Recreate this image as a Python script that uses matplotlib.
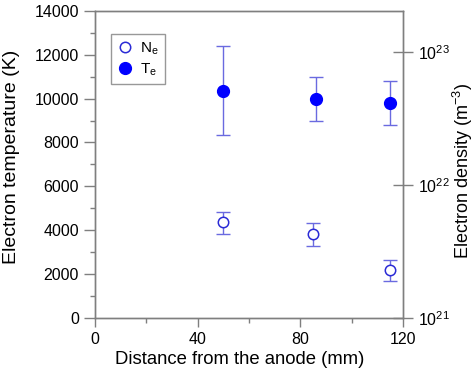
import numpy as np
import matplotlib
matplotlib.use("Agg")
import matplotlib.pyplot as plt
from matplotlib.ticker import MultipleLocator, LogLocator, NullLocator

plt.rcParams['font.family'] = ['Liberation Sans', 'DejaVu Sans']
plt.rcParams['mathtext.fontset'] = 'custom'
plt.rcParams['mathtext.rm'] = 'Liberation Sans'

# Data
dist_te = [50, 86, 115]
te = [10350, 10000, 9800]
te_err_low = [2000, 1000, 1000]
te_err_high = [2050, 1000, 1000]

dist_ne = [50, 85, 115]
ne = [5.3e21, 4.3e21, 2.3e21]
ne_err_low = [1.0e21, 0.83e21, 0.4e21]
ne_err_high = [0.95e21, 0.85e21, 0.42e21]

x_ticks = [0, 40, 80, 120]

grey = '#7f7f7f'
bar_col = '#6a6ae0'

fig = plt.figure(figsize=(4.74, 3.75), dpi=100)
ax = fig.add_axes([0.2004, 0.152, 0.6498, 0.819])
ax2 = ax.twinx()

# Temperature (left axis)
ax.errorbar(dist_te, te, yerr=[te_err_low, te_err_high], fmt='none',
            ecolor=bar_col, elinewidth=1, capsize=5, capthick=1)
h_te, = ax.plot(dist_te, te, 'o', color='#0000ff', markersize=8.5,
                label=r'T$_\mathregular{e}$', zorder=3)

# Density (right axis, log)
ax2.errorbar(dist_ne, ne, yerr=[ne_err_low, ne_err_high], fmt='none',
             ecolor=bar_col, elinewidth=1, capsize=5, capthick=1)
h_ne, = ax2.plot(dist_ne, ne, 'o', mfc='white', mec='#2b2bd6', mew=1.1,
                 markersize=7.5, label=r'N$_\mathregular{e}$', zorder=3)

ax.set_xlim(0, 120)
ax.set_ylim(0, 14000)
ax.set_xticks(x_ticks)
ax.xaxis.set_minor_locator(MultipleLocator(20))
ax.yaxis.set_major_locator(MultipleLocator(2000))
ax.yaxis.set_minor_locator(MultipleLocator(1000))

ax2.set_yscale('log')
ax2.set_ylim(1e21, 2.04e23)
ax2.yaxis.set_major_locator(LogLocator(base=10, numticks=5))
ax2.yaxis.set_minor_locator(NullLocator())

for a in (ax, ax2):
    for s in a.spines.values():
        s.set_color(grey)
        s.set_linewidth(1)

ax.tick_params(axis='both', which='major', direction='out', length=8,
               color=grey, labelsize=11.5, width=1)
ax.tick_params(axis='both', which='minor', direction='out', length=3.5,
               color=grey, width=1)
ax.tick_params(axis='x', which='major', length=6.5)
ax2.tick_params(axis='y', which='major', direction='inout', length=14,
                color=grey, labelsize=11.5, width=1)

ax.set_xlabel('Distance from the anode (mm)', fontsize=13.3)
ax.xaxis.set_label_coords(0.47, -0.108)
ax.set_ylabel('Electron temperature (K)', fontsize=14)
ax.yaxis.set_label_coords(-0.245, 0.524)
ax2.set_ylabel(r'Electron density (m$^{-3}$)', fontsize=13)
ax2.yaxis.set_label_coords(1.155, 0.479)

leg = ax.legend(handles=[h_ne, h_te], loc='upper left',
                bbox_to_anchor=(0.052, 0.925), borderaxespad=0,
                fontsize=11, frameon=True, fancybox=False,
                handlelength=1.0, handletextpad=0.5,
                borderpad=0.4, labelspacing=0.3)
leg.get_frame().set_edgecolor(grey)
leg.get_frame().set_linewidth(1)

fig.savefig('out.png', dpi=100)
